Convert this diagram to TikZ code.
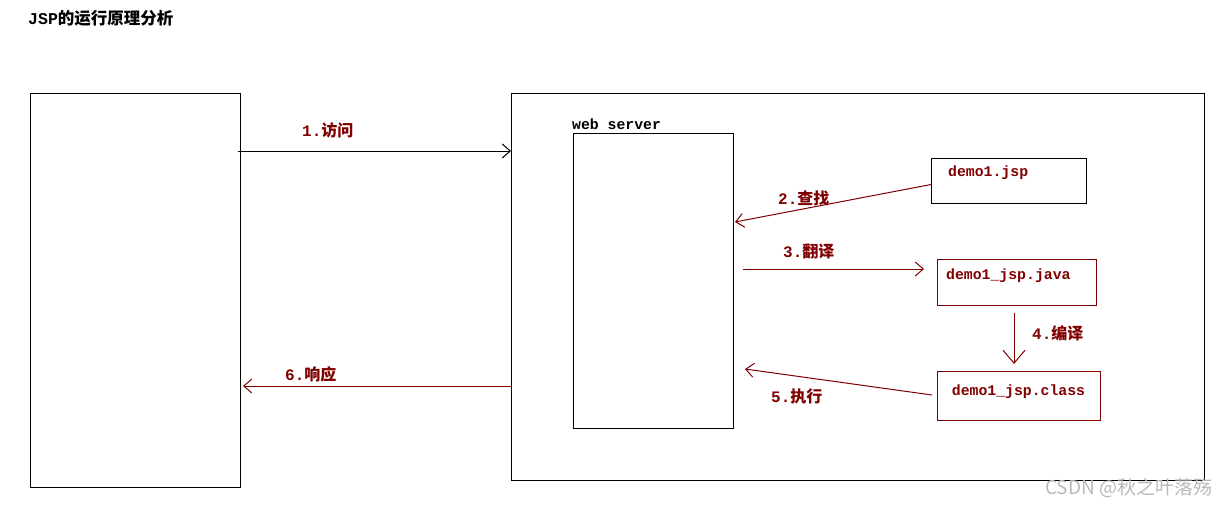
\documentclass[tikz,border=0pt]{standalone}
\usepackage{fontspec}
\usetikzlibrary{arrows.meta,positioning}
\setmonofont{Liberation Mono}
\newfontfamily\cjk{Noto Sans CJK SC}
\definecolor{darkred}{HTML}{800000}
\tikzset{
  box/.style={draw, line width=1pt, inner sep=0pt, outer sep=0pt, anchor=north west},
  redbox/.style={box, draw=darkred},
  file/.style={text=darkred, font=\ttfamily\bfseries\fontsize{14.8}{16}\selectfont, inner sep=0pt, anchor=west},
  steplbl/.style={text=darkred, font=\cjk\bfseries\fontsize{16}{18}\selectfont, inner sep=0pt, anchor=west},
  arr/.style={-{Straight Barb[length=8pt,width=14pt]}, line width=1pt},
}
\begin{document}
\begin{tikzpicture}[x=1pt,y=-1pt]
\useasboundingbox (0,0) rectangle (1232,506);
% title
\node[anchor=west, inner sep=0pt, font=\cjk\bfseries\fontsize{16.5}{18}\selectfont] (title) at (28,18) {{\ttfamily JSP}的运行原理分析};
% boxes
\node[box, minimum width=210, minimum height=394] (client) at (30,93) {};
\node[box, minimum width=693, minimum height=387] (server) at (511,93) {};
\node[box, minimum width=160, minimum height=295] (web) at (573,133) {};
\node[anchor=south west, inner sep=0pt, font=\ttfamily\bfseries\fontsize{14.8}{16}\selectfont] (webtxt) at (572,130) {web server};
\node[box, minimum width=155, minimum height=45] (jsp) at (931,158) {};
\node[file] (jsptxt) at (948,173) {demo1.jsp};
\node[redbox, minimum width=159, minimum height=46] (java) at (937,259) {};
\node[file] (javatxt) at (946,276) {demo1\_jsp.java};
\node[redbox, minimum width=163, minimum height=49] (class) at (937,371) {};
\node[file, anchor=center, yshift=4pt] (classtxt) at (class) {demo1\_jsp.class};
% free ends
\coordinate (c1) at (238,151);
\coordinate (c2) at (735,222);
\coordinate (c3a) at (743,269);
\coordinate (c3b) at (924,269);
\coordinate (c4a) at (1014,313);
\coordinate (c4b) at (1014,364);
\coordinate (c5a) at (932,395);
\coordinate (c5b) at (745,369);
\coordinate (c6a) at (511,386);
\coordinate (c6b) at (243,386);
% connectors
\draw[arr] (c1) -- (server.west |- c1);
\draw[arr, darkred] ([yshift=-4pt]jsp.west) -- (c2);
\draw[arr, darkred] (c3a) -- (c3b);
\draw[darkred, line width=1pt, -{Straight Barb[length=13pt,width=22pt]}] (c4a) -- (c4b);
\draw[arr, darkred] (c5a) -- (c5b);
\draw[arr, darkred] (c6a) -- (c6b);
% labels
\node[steplbl] (l1) at (302,130) {{\ttfamily 1.}访问};
\node[steplbl] (l2) at (778,198) {{\ttfamily 2.}查找};
\node[steplbl] (l3) at (783,251) {{\ttfamily 3.}翻译};
\node[steplbl] (l4) at (1032,333) {{\ttfamily 4.}编译};
\node[steplbl] (l5) at (771,396) {{\ttfamily 5.}执行};
\node[steplbl] (l6) at (285,374) {{\ttfamily 6.}响应};
\node[anchor=west, inner sep=0pt, text=gray!55, font=\cjk\fontsize{19}{20}\selectfont] (mark) at (1045,488) {CSDN @秋之叶落殇};
\end{tikzpicture}
\end{document}
